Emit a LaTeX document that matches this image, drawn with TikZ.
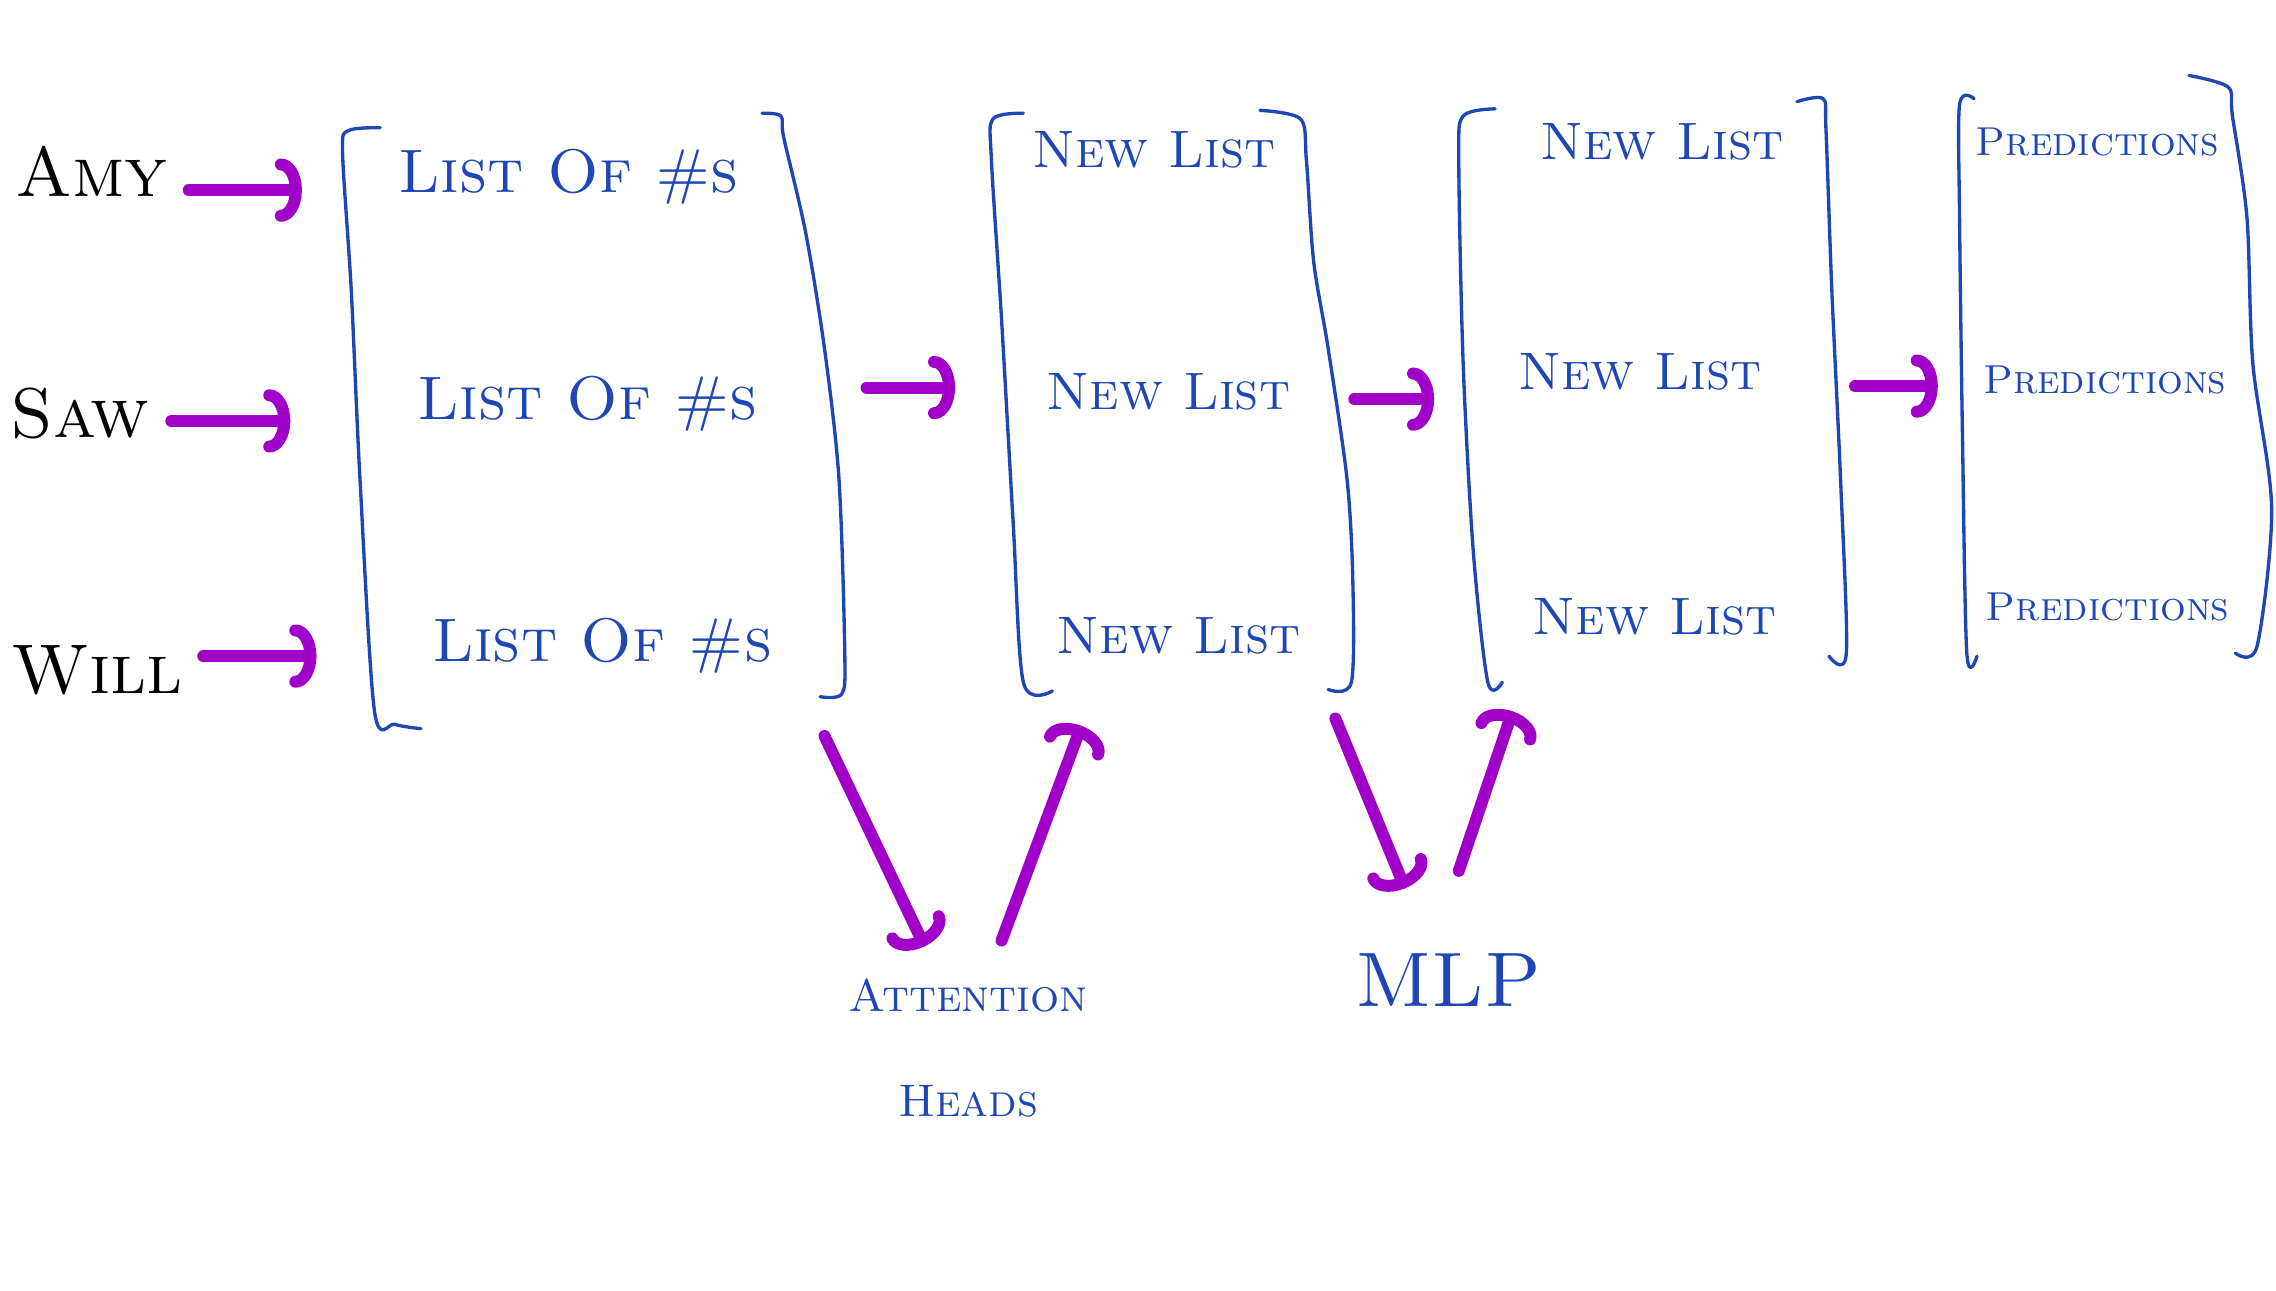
\documentclass[tikz,border=0pt]{standalone}
\usetikzlibrary{arrows.meta}
\definecolor{inkblue}{RGB}{30,70,180}
\definecolor{inkpurple}{RGB}{160,0,200}

\begin{document}
\begin{tikzpicture}[x=0.014515cm,y=-0.014515cm,
	ink/.style={draw=inkblue,line width=0.95pt,line cap=round,line join=round},
	push/.style={draw=inkpurple,line width=3.4pt,line cap=round,-{Arc Barb[width=18pt,length=6pt,round]}},
	word/.style={text=black,font=\fontsize{20}{24}\selectfont\scshape},
	cell/.style={text=inkblue,font=\fontsize{#1}{#1}\selectfont\scshape},
	cell/.default=16]

	\useasboundingbox (0,0) rectangle (1568,889);

	% input words
	\node [name=amy,word] at (63,118) {Amy};
	\node [name=saw,word] at (55,285) {Saw};
	\node [name=will,word] at (67,462) {Will};

	% first column
	\node [name=list1,cell=17.5] at (392,122) {List Of \#s};
	\node [name=list2,cell=17.5] at (405,278) {List Of \#s};
	\node [name=list3,cell=17.5] at (415,445) {List Of \#s};

	% second column
	\node [name=new1,cell=15] at (795,103) {New List};
	\node [name=new2,cell=15] at (805,270) {New List};
	\node [name=new3,cell=15] at (812,438) {New List};

	% third column
	\node [name=newer1,cell=15] at (1145,98) {New List};
	\node [name=newer2,cell=15] at (1130,256) {New List};
	\node [name=newer3,cell=15] at (1140,425) {New List};

	% output column
	\node [name=pred1,cell=11.5] at (1445,98) {Predictions};
	\node [name=pred2,cell=11.5] at (1450,262) {Predictions};
	\node [name=pred3,cell=11.5] at (1452,418) {Predictions};

	% blocks
	\node [name=attn,cell=13,align=center] at (667,722) {Attention\\[17pt]Heads};
	\node [name=mlp,cell=22] at (998,675) {MLP};

	% brackets
	\draw [ink] plot[smooth,tension=0.5] coordinates {(262,88) (240,90) (236,105) (242,200) (248,330) (258,490) (272,499) (290,502)};
	\draw [ink] plot[smooth,tension=0.5] coordinates {(525,78) (538,80) (540,95) (555,160) (568,240) (578,330) (582,450) (580,478) (565,480)};
	\draw [ink] plot[smooth,tension=0.5] coordinates {(705,78) (684,82) (683,110) (690,220) (698,360) (705,470) (725,476)};
	\draw [ink] plot[smooth,tension=0.5] coordinates {(868,76) (896,82) (900,110) (905,180) (915,240) (928,330) (932,400) (931,470) (915,475)};
	\draw [ink] plot[smooth,tension=0.5] coordinates {(1030,75) (1008,80) (1005,110) (1008,250) (1015,380) (1025,470) (1035,470)};
	\draw [ink] plot[smooth,tension=0.5] coordinates {(1238,70) (1256,68) (1258,90) (1262,200) (1268,330) (1272,450) (1260,452)};
	\draw [ink] plot[smooth,tension=0.5] coordinates {(1360,68) (1350,72) (1350,150) (1352,300) (1355,450) (1362,452)};
	\draw [ink] plot[smooth,tension=0.5] coordinates {(1508,52) (1535,60) (1538,80) (1548,150) (1552,250) (1565,350) (1555,445) (1540,450)};

	% arrow ends
	\coordinate (amyFrom) at (130,131);
	\coordinate (amyTo) at (208,131);
	\coordinate (sawFrom) at (118,290);
	\coordinate (sawTo) at (200,290);
	\coordinate (willFrom) at (140,452);
	\coordinate (willTo) at (218,452);
	\coordinate (col1Out) at (597,267);
	\coordinate (col2In) at (658,267);
	\coordinate (col2Out) at (933,275);
	\coordinate (col3In) at (988,275);
	\coordinate (col3Out) at (1278,266);
	\coordinate (col4In) at (1335,266);
	\coordinate (attnFrom) at (568,507);
	\coordinate (attnTo) at (637,652);
	\coordinate (attnOut) at (690,648);
	\coordinate (attnBack) at (745,500);
	\coordinate (mlpFrom) at (920,495);
	\coordinate (mlpTo) at (968,612);
	\coordinate (mlpOut) at (1005,600);
	\coordinate (mlpBack) at (1042,490);

	\draw [push] (amyFrom) -- (amyTo);
	\draw [push] (sawFrom) -- (sawTo);
	\draw [push] (willFrom) -- (willTo);
	\draw [push] (col1Out) -- (col2In);
	\draw [push] (col2Out) -- (col3In);
	\draw [push] (col3Out) -- (col4In);
	\draw [push] (attnFrom) -- (attnTo);
	\draw [push] (attnOut) -- (attnBack);
	\draw [push] (mlpFrom) -- (mlpTo);
	\draw [push] (mlpOut) -- (mlpBack);

\end{tikzpicture}
\end{document}
